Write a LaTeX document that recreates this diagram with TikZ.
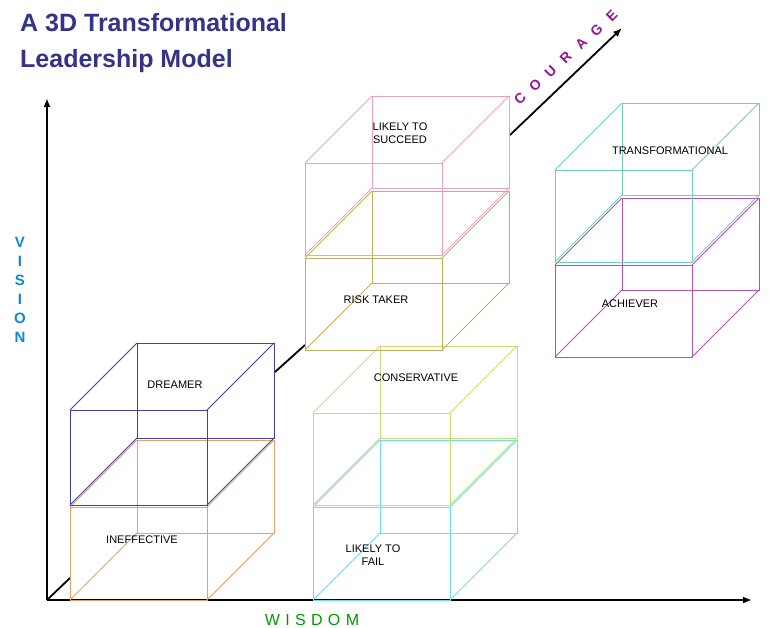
\documentclass[tikz,border=0pt]{standalone}
\usepackage{fontspec}
\setmainfont{Liberation Sans}
\usetikzlibrary{arrows.meta}
\begin{document}
\begin{tikzpicture}[x=1pt,y=-1pt,
  axis/.style={line width=1.8pt,-{Latex[length=9pt,width=7pt]}},
  lbl/.style={font=\fontsize{11}{13}\selectfont,align=center},
  cube/.style={line width=0.8pt}]
\useasboundingbox (0,0) rectangle (769,628);
\definecolor{cdream}{HTML}{4040A8}\definecolor{cineff}{HTML}{E8A068}
\definecolor{cfail}{HTML}{70DDEE}\definecolor{ccons}{HTML}{C8DC70}
\definecolor{crisk}{HTML}{C0B060}\definecolor{csucc}{HTML}{F0A0B8}
\definecolor{ctrans}{HTML}{70D0C0}\definecolor{cach}{HTML}{B050B8}
\definecolor{ctitle}{HTML}{333388}\definecolor{ccour}{HTML}{99118F}
\newcommand{\mycube}[5]{% x y w h color
  \draw[cube,#5] (#1,#2) rectangle ++(#3,#4);
  \draw[cube,#5] (#1+67,#2-67) rectangle ++(#3,#4);
  \draw[cube,#5] (#1,#2) -- ++(67,-67) (#1+#3,#2) -- ++(67,-67)
     (#1,#2+#4) -- ++(67,-67) (#1+#3,#2+#4) -- ++(67,-67);}
\node[anchor=west,font=\bfseries\fontsize{25}{36}\selectfont,text=ctitle,align=left,inner sep=0pt] (title) at (20,43) {A 3D Transformational\\Leadership Model};
\coordinate (o) at (47,600);
\coordinate (ytip) at (47,98);
\coordinate (xtip) at (752,600);
\draw[axis] (o) -- (ytip);
\draw[axis] (o) -- (xtip);
\coordinate (c1) at (70,578);\coordinate (c2) at (275,372);\coordinate (c3) at (305,345);
\coordinate (c4) at (510,135);\coordinate (c5) at (622,28);
\draw[line width=1.8pt] (o) -- (c1);
\draw[line width=1.8pt] (c2) -- (c3);
\draw[axis] (c4) -- (c5);
\mycube{70}{507}{137}{93}{cineff}
\mycube{70}{410}{137}{95}{cdream}
\mycube{313}{507}{137}{93}{cfail}
\mycube{313}{413}{137}{92}{ccons}
\mycube{305}{258}{137}{92}{crisk}
\mycube{305}{163}{137}{92}{csucc}
\mycube{555}{265}{137}{92}{cach}
\mycube{555}{170}{137}{92}{ctrans}
\node[lbl] (l1) at (175,385) {DREAMER};
\node[lbl] (l2) at (142,540) {INEFFECTIVE};
\node[lbl] (l3) at (373,555) {LIKELY TO\\FAIL};
\node[lbl] (l4) at (416,378) {CONSERVATIVE};
\node[lbl] (l5) at (376,300) {RISK TAKER};
\node[lbl] (l6) at (400,133) {LIKELY TO\\SUCCEED};
\node[lbl] (l7) at (670,151) {TRANSFORMATIONAL};
\node[lbl] (l8) at (630,304) {ACHIEVER};
\node[font=\bfseries\fontsize{15}{19}\selectfont,text=cyan!70!blue,align=center] (vis) at (20,290) {V\\I\\S\\I\\O\\N};
\node[font=\fontsize{16}{18}\selectfont,text=green!60!black] (wis) at (312,620) {W\,\,I\,\,S\,\,D\,\,O\,\,M};
\foreach \ch [count=\i from 0] in {C,O,U,R,A,G,E}
  \node[font=\bfseries\fontsize{14}{15}\selectfont,text=ccour,rotate=45,inner sep=0pt] (cour\i) at (520+15.3*\i,99-13.8*\i) {\ch};
\end{tikzpicture}
\end{document}
